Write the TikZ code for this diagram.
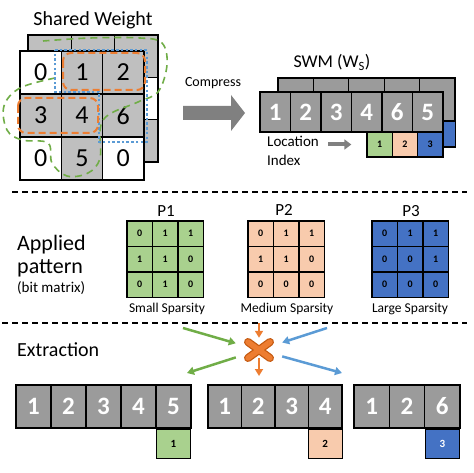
\documentclass[tikz,border=0pt]{standalone}
\usepackage{fontspec}
\setmainfont{Carlito}
\definecolor{wgray}{RGB}{191,191,191}
\definecolor{bgray}{RGB}{155,155,155}
\definecolor{agray}{RGB}{128,128,128}
\definecolor{pgreen}{RGB}{169,209,142}
\definecolor{porange}{RGB}{248,203,173}
\definecolor{pblue}{RGB}{68,114,196}
\definecolor{lgreen}{RGB}{112,173,71}
\definecolor{lorange}{RGB}{237,125,49}
\definecolor{lblue}{RGB}{91,155,213}
\definecolor{xedge}{RGB}{197,90,17}
\usetikzlibrary{arrows.meta, positioning, calc}

\begin{document}
\begin{tikzpicture}[x=1pt, y=-1pt,
  wcell/.style={draw, line width=1.3pt, minimum width=41.3pt, minimum height=43pt, inner sep=0pt, font=\fontsize{26}{26}\selectfont},
  backcell/.style={draw, line width=1.3pt, fill=wgray, minimum width=43.3pt, minimum height=42.3pt, inner sep=0pt},
  swmcell/.style={draw, line width=1.3pt, fill=bgray, minimum width=30.5pt, minimum height=40pt, inner sep=0pt, text=white, font=\fontsize{25}{25}\selectfont\bfseries},
  barcell/.style={draw, line width=1.3pt, fill=bgray, minimum height=43pt, inner sep=0pt, text=white, font=\fontsize{25}{25}\selectfont\bfseries},
  idxbox/.style={draw, line width=1.3pt, minimum width=25.3pt, minimum height=25pt, inner sep=0pt, font=\fontsize{10}{10}\selectfont\bfseries},
  outidx/.style={draw, line width=1.3pt, minimum width=34pt, minimum height=29pt, inner sep=0pt, font=\fontsize{11}{11}\selectfont\bfseries},
  patcell/.style={draw, line width=1.3pt, minimum size=25.5pt, inner sep=0pt, font=\fontsize{10}{10}\selectfont\bfseries},
  title/.style={inner sep=0pt, font=\fontsize{20}{20}\selectfont},
  small/.style={inner sep=0pt, font=\fontsize{13.5}{13.5}\selectfont},
  sepline/.style={line width=1.2pt, dash pattern=on 6pt off 4pt},
  arr/.style={line width=2.5pt, -{Triangle[length=7pt, width=8pt]}}
]
  \useasboundingbox (0,0) rectangle (474,473);

  % Shared weight (back layer)
  \foreach \i in {0,1,2} {
    \foreach \j in {0,1,2} {
      \node[backcell] (bk-\j-\i) at (49.67+43.33*\i, 56.17+42.33*\j) {};
    }
  }
  \node[backcell, fill=white] at (136.33, 98.5) {};

  % Shared weight (front layer)
  \foreach \r [count=\j from 0] in {{0/white,1/wgray,2/wgray},{3/wgray,4/wgray,6/wgray},{0/white,5/wgray,0/white}} {
    \foreach \v/\c [count=\i from 0] in \r {
      \node[wcell, fill=\c] (sw-\j-\i) at (40.65+41.3*\i, 72.5+43*\j) {\v};
    }
  }
  \node[title, anchor=base] (swtitle) at (93,26) {Shared Weight};

  % overlays
  \draw[lgreen, line width=1.6pt, dash pattern=on 7pt off 5pt] plot[smooth, tension=0.6] coordinates {
    (55,78) (20,88) (4,106) (7,130) (22,140) (48,143) (52,163) (67,176) (88,173) (100,158)
    (103,120) (138,102) (158,92) (167,65) (162,43) (140,38) (90,38) (43,41)};
  \draw[lblue, line width=2.5pt, dash pattern=on 2.5pt off 2.2pt]
    (55,50) -- (147,50) -- (147,142) -- (99,142) -- (99,92) -- (55,92) -- cycle;
  \draw[lorange, line width=2pt, dash pattern=on 7pt off 4pt, rounded corners=8pt]
    (63,53) rectangle (145,90);
  \draw[lorange, line width=2pt, dash pattern=on 7pt off 4pt, rounded corners=8pt]
    (18,98) rectangle (98,133);

  % Compress
  \fill[agray] (183,106) -- (231,106) -- (231,95) -- (245,113) -- (231,131) -- (231,120) -- (183,120) -- cycle;
  \node[inner sep=0pt, font=\fontsize{14}{14}\selectfont, anchor=base] (compress) at (213,87) {Compress};

  % SWM
  \node[inner sep=0pt, font=\fontsize{18}{18}\selectfont, anchor=base] (swmtitle) at (332,68) {SWM (W\textsubscript{S})};
  \foreach \k in {0,...,4} {
    \node[swmcell, minimum width=35.4pt, minimum height=43pt] (swmbk-\k) at (295.7+35.4*\k, 99.5) {};
  }
  \node[idxbox, fill=pblue, minimum height=26pt] (idxbk) at (442.5,134) {};
  \foreach \v [count=\k from 0] in {1,2,3,4,6,5} {
    \node[swmcell] (swm-\k) at (275.25+30.5*\k, 112) {\v};
  }
  \node[idxbox, fill=pgreen] (idx1) at (379.65,144.5) {1};
  \node[idxbox, fill=porange] (idx2) at (404.95,144.5) {2};
  \node[idxbox, fill=pblue] (idx3) at (430.25,144.5) {3};
  \node[inner sep=0pt, font=\fontsize{15}{15}\selectfont, anchor=base west] (loc) at (267,147) {Location};
  \node[inner sep=0pt, font=\fontsize{15}{15}\selectfont, anchor=base west] (index) at (267,166) {Index};
  \draw[agray, line width=4pt, -{Triangle[length=7pt, width=10pt]}, shorten <=9pt, shorten >=15pt]
    (loc.east |- idx1.west) -- (idx1.west);

  \draw[sepline] (12,192) -- (467,192);

  % Applied pattern
  \node[title, font=\fontsize{22}{22}\selectfont, anchor=base west] (applied) at (17,251) {Applied};
  \node[title, font=\fontsize{22}{22}\selectfont, anchor=base west] (pattern) at (17,273) {pattern};
  \node[inner sep=0pt, font=\fontsize{15}{15}\selectfont, anchor=base west] (bitm) at (17,292) {(bit matrix)};

  \foreach \r [count=\j from 0] in {{0,1,1},{1,1,0},{0,1,0}} {
    \foreach \v [count=\i from 0] in \r {
      \node[patcell, fill=pgreen] (pa-\j-\i) at (139.75+25.5*\i, 233.75+25.5*\j) {\v};
    }
  }
  \foreach \r [count=\j from 0] in {{0,1,1},{1,1,0},{0,0,0}} {
    \foreach \v [count=\i from 0] in \r {
      \node[patcell, fill=porange] (pb-\j-\i) at (260.75+25.5*\i, 233.75+25.5*\j) {\v};
    }
  }
  \foreach \r [count=\j from 0] in {{0,1,1},{0,0,1},{0,0,0}} {
    \foreach \v [count=\i from 0] in \r {
      \node[patcell, fill=pblue] (pc-\j-\i) at (384.75+25.5*\i, 233.75+25.5*\j) {\v};
    }
  }
  \node[inner sep=0pt, font=\fontsize{17}{17}\selectfont, anchor=base] (p1) at (166,217) {P1};
  \node[inner sep=0pt, font=\fontsize{17}{17}\selectfont, anchor=base] (p2) at (284,216) {P2};
  \node[inner sep=0pt, font=\fontsize{17}{17}\selectfont, anchor=base] (p3) at (411,217) {P3};
  \node[small, anchor=base] (s1) at (167,312) {Small Sparsity};
  \node[small, anchor=base] (s2) at (287,312) {Medium Sparsity};
  \node[small, anchor=base] (s3) at (410,312) {Large Sparsity};

  \draw[sepline] (2,323) -- (467,323);

  % Extraction
  \node[title, anchor=base west] (extract) at (17,356) {Extraction};
  \node[minimum width=46pt, minimum height=24pt, inner sep=0pt] (cross) at (259,350) {};
  \draw[xedge, line width=8pt, line cap=round] (248,342) -- (270,358) (248,358) -- (270,342);
  \draw[lorange, line width=5.5pt, line cap=round] (248,342) -- (270,358) (248,358) -- (270,342);
  \coordinate (gin) at (183,328);
  \coordinate (gout) at (187,373);
  \coordinate (oin) at (259,323);
  \coordinate (oout) at (259,376);
  \coordinate (bin) at (327,328);
  \coordinate (bout) at (342,373);
  \draw[arr, lgreen] (gin) -- (cross);
  \draw[arr, lgreen] (cross) -- (gout);
  \draw[arr, lorange] (oin) -- (cross);
  \draw[arr, lorange, shorten <=-4pt] (cross) -- (oout);
  \draw[arr, lblue] (bin) -- (cross);
  \draw[arr, lblue] (cross) -- (bout);

  \foreach \v [count=\k from 0] in {1,2,3,4,5} {
    \node[barcell, minimum width=35pt] (ea-\k) at (33.5+35*\k, 406.5) {\v};
  }
  \node[outidx, fill=pgreen, below=0pt of ea-4] (ea-idx) {1};
  \foreach \v [count=\k from 0] in {1,2,3,4} {
    \node[barcell, minimum width=33.5pt] (eb-\k) at (224.75+33.5*\k, 406.5) {\v};
  }
  \node[outidx, fill=porange, below=0pt of eb-3] (eb-idx) {2};
  \foreach \v [count=\k from 0] in {1,2,6} {
    \node[barcell, minimum width=35.33pt] (ec-\k) at (371.67+35.33*\k, 406.5) {\v};
  }
  \node[outidx, fill=pblue, text=white, below=0pt of ec-2] (ec-idx) {3};
\end{tikzpicture}
\end{document}
